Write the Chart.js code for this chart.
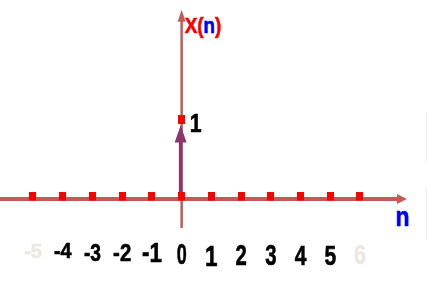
<!DOCTYPE html>
<html>
<head>
<meta charset="utf-8">
<style>
  html, body { margin: 0; padding: 0; background: #ffffff; }
  #wrap { width: 427px; height: 286px; position: relative; }
</style>
<script src="https://cdn.jsdelivr.net/npm/chart.js@4"></script>
</head>
<body>
<div id="wrap"><canvas id="c" width="427" height="286"></canvas></div>
<script>
// ---- data ----
const nValues = [-5, -4, -3, -2, -1, 0, 1, 2, 3, 4, 5, 6];
const sampleValues = [0, 0, 0, 0, 0, 0, 0, 0, 0, 0, 0, 0];
const impulseN = [0];
const impulseValues = [1];
const tickLabels = ['-5', '-4', '-3', '-2', '-1', '0', '1', '2', '3', '4', '5', '6'];
const fadedTicks = ['-5', '6'];
const yAxisTitle = ['X', '(', 'n', ')'];
const xAxisTitle = 'n';
const impulseLabel = '1';

// ---- styles ----
const FONT = '"Liberation Sans", Arial, sans-serif';
const NARROW = 0.82;
const AXIS_COLOR = '#c25a56';
const MARK_COLOR = '#ff0000';
const ARROW_COLOR = '#8c356e';
// per tick label look (font size, horizontal squeeze, baseline shift in px)
const tickLook = [
  { size: 21, sx: 0.95, dy: -6 },
  { size: 22, sx: 0.9,  dy: -6 },
  { size: 24, sx: 0.8,  dy: -3 },
  { size: 24, sx: 0.85, dy: -3 },
  { size: 28, sx: 0.8,  dy: -2 },
  { size: 29, sx: 0.62, dy: 0 },
  { size: 30, sx: 0.75, dy: 2 },
  { size: 29, sx: 0.7,  dy: 1 },
  { size: 29, sx: 0.7,  dy: 1 },
  { size: 28, sx: 0.75, dy: 1 },
  { size: 28, sx: 0.75, dy: 1 },
  { size: 27, sx: 0.8,  dy: 0 }
];

function makeMarker(w, h, lift) {
  const c = document.createElement('canvas');
  c.width = w; c.height = h + 2 * lift;
  const g = c.getContext('2d');
  g.fillStyle = MARK_COLOR;
  g.fillRect(0, 0, w, h);
  return c;
}
const sampleMarker = makeMarker(7, 9, 3);
const topMarker = makeMarker(7, 9, 0);

const samplePoints = nValues.map((n, i) => ({ x: n, y: sampleValues[i] }));
const impulsePoints = impulseN.map((n, i) => ({ x: n, y: impulseValues[i] }));

function arrowHead(ctx, x, y, dx, dy, len, half) {
  const px = -dy, py = dx;
  ctx.beginPath();
  ctx.moveTo(x, y);
  ctx.lineTo(x - dx * len + px * half, y - dy * len + py * half);
  ctx.lineTo(x - dx * len - px * half, y - dy * len - py * half);
  ctx.closePath();
  ctx.fill();
}

// draw horizontally condensed text; align: 'left' | 'center'
function narrowText(ctx, text, x, y, size, color, align, sx) {
  const squeeze = sx || NARROW;
  ctx.save();
  ctx.font = 'bold ' + size + 'px ' + FONT;
  ctx.fillStyle = color;
  ctx.textBaseline = 'alphabetic';
  ctx.textAlign = align;
  ctx.translate(x, y);
  ctx.scale(squeeze, 1);
  ctx.fillText(text, 0, 0);
  ctx.strokeStyle = color;
  ctx.lineWidth = 0.6;
  ctx.strokeText(text, 0, 0);
  const w = ctx.measureText(text).width * squeeze;
  ctx.restore();
  return w;
}

const axesPlugin = {
  id: 'axesPlugin',
  beforeDatasetsDraw(chart) {
    const ctx = chart.ctx;
    const xs = chart.scales.x, ys = chart.scales.y;
    const area = chart.chartArea;
    const x0 = xs.getPixelForValue(0);
    const y0 = ys.getPixelForValue(0);
    ctx.save();
    // faint line at right edge
    ctx.strokeStyle = '#ececec';
    ctx.lineWidth = 1;
    ctx.beginPath();
    ctx.moveTo(426.5, 113); ctx.lineTo(426.5, 162);
    ctx.moveTo(426.5, 187); ctx.lineTo(426.5, 240);
    ctx.stroke();
    // horizontal axis
    const xEnd = xs.getPixelForValue(7.58);
    ctx.strokeStyle = AXIS_COLOR;
    ctx.fillStyle = AXIS_COLOR;
    ctx.lineWidth = 4;
    ctx.beginPath();
    ctx.moveTo(area.left, y0);
    ctx.lineTo(xEnd - 8, y0);
    ctx.stroke();
    arrowHead(ctx, xEnd, y0, 1, 0, 10, 5);
    // vertical axis
    const yTop = ys.getPixelForValue(2.38);
    const yBot = ys.getPixelForValue(-0.365);
    ctx.lineWidth = 2.5;
    ctx.beginPath();
    ctx.moveTo(x0, yBot);
    ctx.lineTo(x0, yTop + 9);
    ctx.stroke();
    arrowHead(ctx, x0, yTop, 0, -1, 12, 4);
    // impulse arrow
    ctx.fillStyle = ARROW_COLOR;
    ctx.strokeStyle = ARROW_COLOR;
    impulsePoints.forEach(p => {
      const px = xs.getPixelForValue(p.x) - 1;
      const pTop = ys.getPixelForValue(p.y) + 6;
      ctx.lineWidth = 3.5;
      ctx.beginPath();
      ctx.moveTo(px, ys.getPixelForValue(0) - 3);
      ctx.lineTo(px, pTop + 12);
      ctx.stroke();
      arrowHead(ctx, px, pTop, 0, -1, 17, 6);
    });
    ctx.restore();
  },
  afterDatasetsDraw(chart) {
    const ctx = chart.ctx;
    const xs = chart.scales.x, ys = chart.scales.y;
    // tick labels
    const tickY = ys.getPixelForValue(-0.82);
    nValues.forEach((n, i) => {
      const lab = tickLabels[i];
      const look = tickLook[i];
      const col = fadedTicks.includes(lab) ? '#ebe8df' : '#000000';
      narrowText(ctx, lab, xs.getPixelForValue(n), tickY + look.dy, look.size, col, 'center', look.sx);
    });
    // y title X(n)
    let tx = xs.getPixelForValue(0) + 3;
    const ty = ys.getPixelForValue(2.09);
    yAxisTitle.forEach(s => {
      tx += narrowText(ctx, s, tx, ty, 22, s === 'n' ? '#0000ff' : '#ff0000', 'left', 0.86);
    });
    // x title n
    narrowText(ctx, xAxisTitle, xs.getPixelForValue(7.43), ys.getPixelForValue(-0.34), 28, '#0000ff', 'center');
    // impulse value label
    impulsePoints.forEach(p => {
      narrowText(ctx, impulseLabel, xs.getPixelForValue(p.x) + 8, ys.getPixelForValue(p.y * 0.843), 26, '#000000', 'left');
    });
  }
};

new Chart(document.getElementById('c'), {
  type: 'scatter',
  data: {
    datasets: [
      {
        label: 'samples',
        data: samplePoints,
        pointStyle: sampleMarker,
        pointRadius: 5,
        pointHoverRadius: 5,
        showLine: false
      },
      {
        label: 'x(n)',
        data: impulsePoints,
        pointStyle: topMarker,
        pointRadius: 5,
        pointHoverRadius: 5,
        showLine: false
      }
    ]
  },
  options: {
    responsive: false,
    animation: false,
    events: [],
    layout: { padding: 0, autoPadding: false },
    plugins: { legend: { display: false }, tooltip: { enabled: false } },
    scales: {
      x: {
        type: 'linear',
        display: false,
        min: -6.11,
        max: 8.254
      },
      y: {
        type: 'linear',
        display: false,
        min: -1.094,
        max: 2.503
      }
    }
  },
  plugins: [axesPlugin]
});
</script>
</body>
</html>
